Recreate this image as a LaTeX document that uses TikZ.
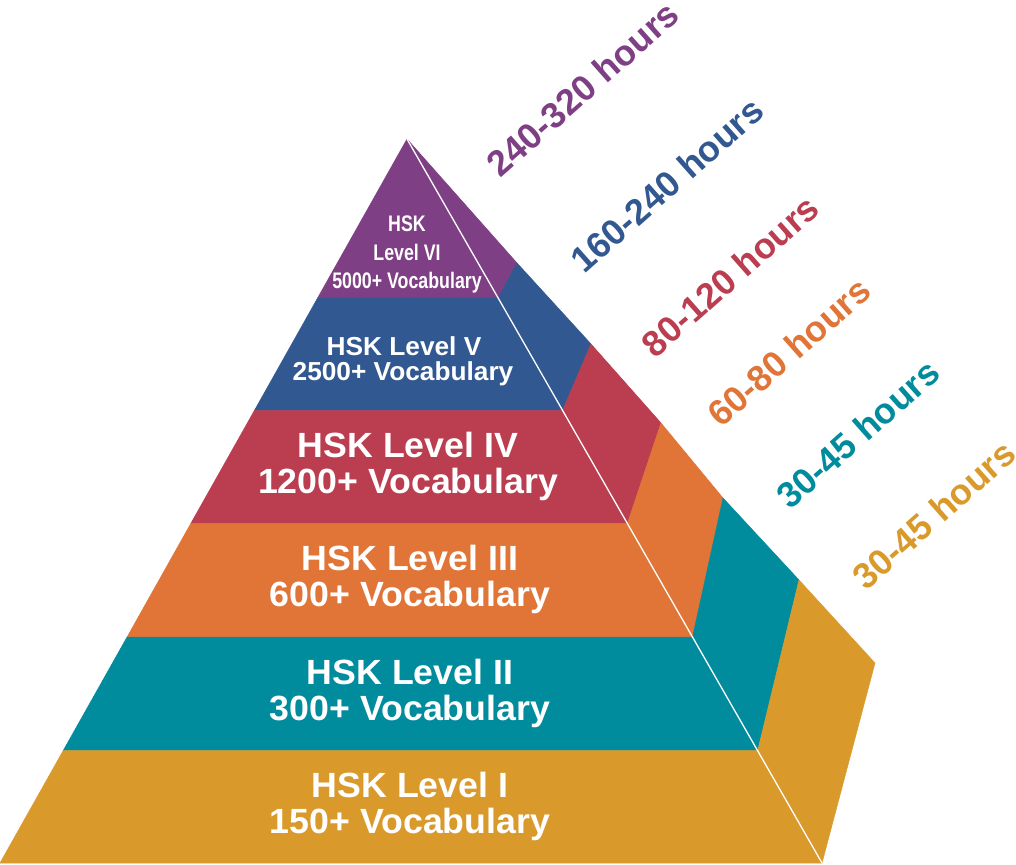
\documentclass[tikz,border=0pt]{standalone}
\usepackage{fontspec}
\setmainfont{Liberation Sans}
\definecolor{cpurple}{HTML}{7F3F84}
\definecolor{cblue}{HTML}{325891}
\definecolor{cred}{HTML}{BB3D50}
\definecolor{corange}{HTML}{E07537}
\definecolor{cteal}{HTML}{018C9E}
\definecolor{cgold}{HTML}{D99A2B}
\begin{document}
\begin{tikzpicture}[x=1pt,y=-1pt,
  band/.style={fill=#1,draw=#1,line width=0.5pt,line join=round},
  lvl/.style={text=white,font=\bfseries\fontsize{35}{36}\selectfont,anchor=base,inner sep=0pt,xscale=1.02},
  lvlsmall/.style={text=white,font=\bfseries\fontsize{26}{27}\selectfont,anchor=base,inner sep=0pt,xscale=1.01},
  lvltiny/.style={text=white,font=\bfseries\fontsize{22.5}{23}\selectfont,anchor=base,inner sep=0pt,xscale=0.79},
  hrs/.style={text=#1,font=\bfseries\fontsize{36}{38}\selectfont,rotate=41.5,inner sep=0pt}]
\useasboundingbox (0,0) rectangle (1016,864);
% key points
\coordinate (apex) at (407,139);
\coordinate (L1) at (317.6,298);   \coordinate (R1) at (498.1,298);   \coordinate (B1) at (517,263);
\coordinate (L2) at (254.4,410.5); \coordinate (R2) at (562.6,410.5); \coordinate (B2) at (591,344);
\coordinate (L3) at (190.8,523.5); \coordinate (R3) at (627.4,523.5); \coordinate (B3) at (661,423);
\coordinate (L4) at (127.1,637);   \coordinate (R4) at (692.5,637);   \coordinate (B4) at (723,498);
\coordinate (L5) at (63.2,750.6);  \coordinate (R5) at (757.7,750.6); \coordinate (B5) at (799,580);
\coordinate (L6) at (0,863);       \coordinate (R6) at (822,863);     \coordinate (B6) at (875,663);
% bands (front + side)
\path[band=cpurple] (apex) -- (B1) -- (R1) -- (L1) -- cycle;
\path[band=cblue]   (L1) -- (R1) -- (B1) -- (B2) -- (R2) -- (L2) -- cycle;
\path[band=cred]    (L2) -- (R2) -- (B2) -- (B3) -- (R3) -- (L3) -- cycle;
\path[band=corange] (L3) -- (R3) -- (B3) -- (B4) -- (R4) -- (L4) -- cycle;
\path[band=cteal]   (L4) -- (R4) -- (B4) -- (B5) -- (R5) -- (L5) -- cycle;
\path[band=cgold]   (L5) -- (R5) -- (B5) -- (B6) -- (R6) -- (L6) -- cycle;
% front edge
\draw[white,line width=1.3pt] (apex) -- (R6);
% level texts
\node[lvltiny] (t6a) at (407,231) {HSK};
\node[lvltiny] (t6b) at (407,260) {Level VI};
\node[lvltiny] (t6c) at (407,288) {5000+ Vocabulary};
\node[lvlsmall] (t5a) at (404,355) {HSK Level V};
\node[lvlsmall] (t5b) at (403,380) {2500+ Vocabulary};
\node[lvl] (t4a) at (408,457.5) {HSK Level IV};
\node[lvl] (t4b) at (408,493.5) {1200+ Vocabulary};
\node[lvl] (t3a) at (410,570.5) {HSK Level III};
\node[lvl] (t3b) at (410,606.5) {600+ Vocabulary};
\node[lvl] (t2a) at (410,684) {HSK Level II};
\node[lvl] (t2b) at (410,720) {300+ Vocabulary};
\node[lvl] (t1a) at (410,797.6) {HSK Level I};
\node[lvl] (t1b) at (410,833.6) {150+ Vocabulary};
% hours labels
\node[hrs=cpurple] (h6) at (582.5,89) {240-320 hours};
\node[hrs=cblue]   (h5) at (667,185) {160-240 hours};
\node[hrs=cred]    (h4) at (730,276) {80-120 hours};
\node[hrs=corange] (h3) at (789,352) {60-80 hours};
\node[hrs=cteal]   (h2) at (858,434) {30-45 hours};
\node[hrs=cgold]   (h1) at (934,515) {30-45 hours};
\end{tikzpicture}
\end{document}
